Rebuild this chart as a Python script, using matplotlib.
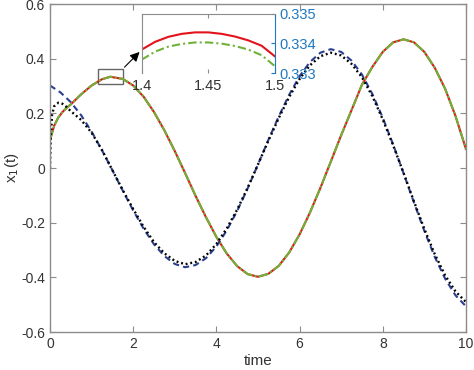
import numpy as np
import matplotlib
matplotlib.use("Agg")
from matplotlib import pyplot as plt
from matplotlib.patches import Rectangle

plt.rcParams['font.family'] = ['Liberation Sans', 'DejaVu Sans']
plt.rcParams['axes.unicode_minus'] = False

# red solid / green dash-dot (overlapping in main plot)
t_rg = [0, 0.1, 0.2, 0.3, 0.4, 0.5, 0.75, 1.0, 1.25, 1.45] + list(np.arange(1.75, 10.01, 0.25))
x_rg = [0.102, 0.155, 0.185, 0.205, 0.220, 0.233, 0.270, 0.302, 0.325, 0.334,
        0.326, 0.302, 0.261, 0.205, 0.138, 0.062, -0.019, -0.102, -0.180, -0.252,
        -0.313, -0.359, -0.388, -0.398, -0.387, -0.358, -0.309, -0.243, -0.163, -0.073,
        0.023, 0.120, 0.212, 0.305, 0.370, 0.425, 0.460, 0.471, 0.460, 0.425,
        0.367, 0.290, 0.190, 0.070]

# blue dashed
t_blue = np.arange(0, 10.01, 0.25)
x_blue = [0.302, 0.277, 0.241, 0.193, 0.133, 0.065, -0.008, -0.083, -0.155, -0.222,
          -0.279, -0.322, -0.351, -0.363, -0.355, -0.330, -0.287, -0.228, -0.157, -0.075,
          0.013, 0.103, 0.189, 0.268, 0.336, 0.388, 0.422, 0.435, 0.425, 0.393,
          0.342, 0.271, 0.184, 0.086, -0.019, -0.126, -0.230, -0.325, -0.405, -0.466,
          -0.506]

# black dotted
t_black = [0, 0.01, 0.02, 0.05, 0.1, 0.2, 0.3, 0.4, 0.5, 0.75, 1.0, 1.25, 1.5] + list(np.arange(1.75, 10.01, 0.25))
x_black = [0.0, 0.07, 0.12, 0.195, 0.226, 0.239, 0.235, 0.223, 0.208, 0.176, 0.129, 0.066, -0.008,
           -0.081, -0.150, -0.215, -0.271, -0.312, -0.340, -0.352, -0.344, -0.320, -0.278,
           -0.221, -0.152, -0.073, 0.013, 0.100, 0.183, 0.260, 0.326, 0.376, 0.409,
           0.422, 0.412, 0.381, 0.332, 0.263, 0.178, 0.083, -0.018, -0.122, -0.223,
           -0.315, -0.393, -0.452, -0.490]

# zoomed part
t_zoom = [1.40, 1.41, 1.42, 1.43, 1.44, 1.45, 1.46, 1.47, 1.48, 1.49, 1.50]
x_red_zoom = [0.33379, 0.33405, 0.33422, 0.33432, 0.33437, 0.33437, 0.33432, 0.33423, 0.33410, 0.33392, 0.33356]
x_green_zoom = [0.33345, 0.33372, 0.33389, 0.33398, 0.33403, 0.33403, 0.33399, 0.33391, 0.33379, 0.33360, 0.33323]

xticks = [0, 2, 4, 6, 8, 10]
yticks = [-0.6, -0.4, -0.2, 0, 0.2, 0.4, 0.6]
ytick_labels = ['-0.6', '-0.4', '-0.2', '0', '0.2', '0.4', '0.6']

red = '#e3121b'
green = '#6fb23a'
blue = '#2a3f8f'
axis_gray = '#8c8c8c'
text_gray = '#333333'
tick_blue = '#1f78c1'

fig = plt.figure(figsize=(4.74, 3.70), dpi=100)
ax = fig.add_axes([0.1055, 0.1027, 0.8775, 0.8863])

ax.plot(t_rg, x_rg, color=red, lw=1.5)
ax.plot(t_rg, x_rg, color=green, lw=1.5, linestyle=(0, (5, 1, 1, 1)))
ax.plot(t_blue, x_blue, color=blue, lw=1.5, linestyle=(0, (3, 2)))
ax.plot(t_black, x_black, color='black', lw=1.7, linestyle=(0, (0.8, 1.2)))

ax.set_xlim(0, 10)
ax.set_ylim(-0.6, 0.6)
ax.set_xticks(xticks)
ax.set_xticklabels([str(v) for v in xticks])
ax.set_yticks(yticks)
ax.set_yticklabels(ytick_labels)
ax.tick_params(direction='in', top=True, right=True, length=4, color=axis_gray,
               labelcolor=text_gray, labelsize=10)
for s in ax.spines.values():
    s.set_color(axis_gray)
    s.set_linewidth(1.0)
ax.set_xlabel('time', fontsize=11, color=text_gray, labelpad=2)
ax.set_ylabel('x$_1$(t)', fontsize=11, color=text_gray, labelpad=0)

# small box around the peak and arrow to the inset
ax.add_patch(Rectangle((1.145, 0.307), 0.6, 0.055, fill=False, edgecolor='#666666', lw=1.0))
ax.annotate('', xy=(2.2, 0.432), xytext=(1.745, 0.362),
            arrowprops=dict(arrowstyle='-|>', color='black', lw=0.8, mutation_scale=14))

# inset
ax_in = fig.add_axes([0.299, 0.8027, 0.281, 0.1603])
ax_in.plot(t_zoom, x_red_zoom, color=red, lw=1.5)
ax_in.plot(t_zoom, x_green_zoom, color=green, lw=1.5, linestyle=(0, (4, 1.5, 1, 1.5)))
ax_in.set_xlim(1.4, 1.5)
ax_in.set_ylim(0.333, 0.335)
ax_in.set_xticks([1.4, 1.45, 1.5])
ax_in.set_xticklabels(['1.4', '1.45', '1.5'])
ax_in.set_yticks([0.333, 0.334, 0.335])
ax_in.set_yticklabels(['0.333', '0.334', '0.335'])
ax_in.yaxis.tick_right()
ax_in.tick_params(axis='x', direction='in', top=True, length=3, color=axis_gray,
                  labelcolor=text_gray, labelsize=10.5, pad=4)
ax_in.tick_params(axis='y', direction='in', length=3, color=tick_blue,
                  labelcolor=tick_blue, labelsize=10.5, pad=3)
for s in ax_in.spines.values():
    s.set_color(axis_gray)
ax_in.spines['right'].set_color(tick_blue)
ax_in.spines['bottom'].set_visible(False)
ax_in.set_facecolor('white')

fig.savefig('out.png', dpi=100)
